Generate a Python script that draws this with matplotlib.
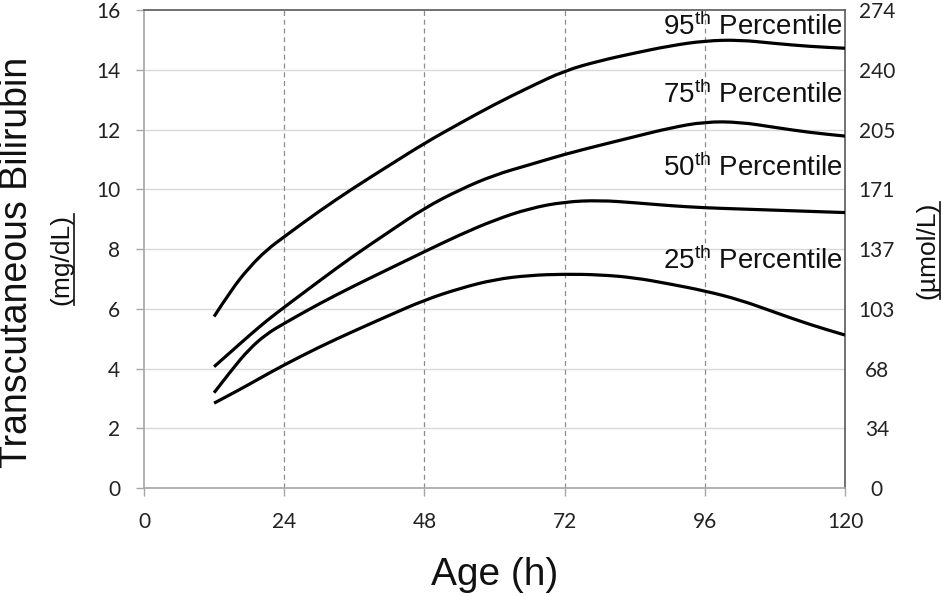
import matplotlib
matplotlib.use("Agg")
import matplotlib.pyplot as plt
from matplotlib.lines import Line2D
from matplotlib.path import Path
from matplotlib.patches import PathPatch

# age in hours
age = [12, 15, 18, 21, 24, 30, 36, 42, 48, 54, 60, 66, 72, 78, 84, 90, 96, 102, 108, 114, 120]

# transcutaneous bilirubin (mg/dL) per percentile
p95 = [5.74, 6.65, 7.38, 7.97, 8.41, 9.27, 10.06, 10.8, 11.54, 12.2, 12.84, 13.42, 13.97,
       14.3, 14.56, 14.8, 14.97, 15.0, 14.88, 14.78, 14.72]
p75 = [4.06, 4.58, 5.1, 5.6, 6.05, 6.93, 7.79, 8.58, 9.37, 9.98, 10.48, 10.82, 11.17,
       11.47, 11.76, 12.05, 12.26, 12.25, 12.07, 11.9, 11.78]
p50 = [3.19, 3.95, 4.65, 5.16, 5.51, 6.17, 6.77, 7.34, 7.91, 8.47, 8.97, 9.36, 9.58,
       9.63, 9.55, 9.45, 9.38, 9.34, 9.3, 9.26, 9.22]
p25 = [2.84, 3.15, 3.47, 3.8, 4.12, 4.72, 5.26, 5.78, 6.29, 6.68, 6.98, 7.12, 7.16,
       7.14, 7.04, 6.83, 6.6, 6.3, 5.88, 5.47, 5.12]

labels = ["95", "75", "50", "25"]
label_y = [15.16, 12.88, 10.44, 7.32]

x_ticks = [0, 24, 48, 72, 96, 120]
y_ticks = [0, 2, 4, 6, 8, 10, 12, 14, 16]
umol_labels = ["0", "34", "68", "103", "137", "171", "205", "240", "274"]

plt.rcParams['font.family'] = ['Liberation Sans', 'DejaVu Sans']
plt.rcParams['mathtext.fontset'] = 'custom'
plt.rcParams['mathtext.rm'] = 'Liberation Sans'
plt.rcParams['mathtext.it'] = 'Liberation Sans:italic'


def smooth_path(xs, ys):
    # quadratic bezier through the midpoints, so the curve has no corners
    pts = list(zip(xs, ys))
    verts = [pts[0]]
    codes = [Path.MOVETO]
    for i in range(1, len(pts) - 1):
        mid = ((pts[i][0] + pts[i + 1][0]) / 2, (pts[i][1] + pts[i + 1][1]) / 2)
        verts += [pts[i], mid]
        codes += [Path.CURVE3, Path.CURVE3]
    verts.append(pts[-1])
    codes.append(Path.LINETO)
    return Path(verts, codes)


fig = plt.figure(figsize=(9.46, 5.96), dpi=100)
ax = fig.add_axes([0.1522, 0.1812, 0.741, 0.802])

for yv in y_ticks[1:-1]:
    ax.axhline(yv, color='#d9d9d9', lw=1.0, zorder=1)
for xv in x_ticks[1:-1]:
    ax.axvline(xv, color='#8c8c8c', lw=0.9, ls=(0, (4, 3)), zorder=1)

for series in [p95, p75, p50, p25]:
    ax.add_patch(PathPatch(smooth_path(age, series), facecolor='none',
                           edgecolor='black', lw=2.3, zorder=3))

for lab, yv in zip(labels, label_y):
    ax.text(119.6, yv, lab + r"$^{\mathrm{th}}$ Percentile", ha='right', va='baseline',
            fontsize=20, color='#111111', zorder=4)

ax.set_xlim(0, 120)
ax.set_ylim(0, 16)
ax.set_xticks(x_ticks)
ax.set_yticks(y_ticks)
ax.tick_params(axis='both', direction='out', length=6, color='#a6a6a6', width=1,
               labelsize=15, labelcolor='#222222')
ax.tick_params(axis='x', pad=11)
ax.tick_params(axis='y', pad=11)
for lbl in ax.get_xticklabels() + ax.get_yticklabels():
    lbl.set_family(['Lato', 'DejaVu Sans'])

ax.spines['left'].set_color('#a6a6a6')
ax.spines['bottom'].set_color('#a6a6a6')
ax.spines['top'].set_color('#595959')
ax.spines['right'].set_color('#595959')
for s in ax.spines.values():
    s.set_linewidth(1.2)

ax2 = ax.twinx()
ax2.set_ylim(0, 16)
ax2.set_yticks(y_ticks)
ax2.set_yticklabels(umol_labels)
ax2.tick_params(axis='y', length=0, pad=23, labelsize=15, labelcolor='#222222')
for lbl in ax2.get_yticklabels():
    lbl.set_horizontalalignment('center')
    lbl.set_family(['Lato', 'DejaVu Sans'])
for s in ax2.spines.values():
    s.set_visible(False)

W = 946.0
fig.text(27 / W, 0.56, "Transcutaneous Bilirubin", rotation=90, rotation_mode='anchor',
         ha='center', va='baseline', fontsize=27, color='#111111')
t1 = fig.text(68 / W, 0.564, "(mg/dL)", rotation=90, rotation_mode='anchor',
              ha='center', va='baseline', fontsize=19, color='#111111')
t2 = fig.text(934 / W, 0.58, "(µmol/L)", rotation=90, rotation_mode='anchor',
              ha='center', va='baseline', fontsize=19, color='#111111')
fig.text(0.523, 0.035, "Age (h)", ha='center', va='center', fontsize=28, color='#111111')

# underline the unit labels (to the right of the rotated baseline)
fig.canvas.draw()
inv = fig.transFigure.inverted()
for t, base_px in [(t1, 68), (t2, 934)]:
    bb = t.get_window_extent().transformed(inv)
    xl = (base_px + 5.5) / W
    fig.add_artist(Line2D([xl, xl], [bb.y0, bb.y1], color='#111111', lw=1.2,
                          transform=fig.transFigure))

fig.savefig("out.png", dpi=100)
